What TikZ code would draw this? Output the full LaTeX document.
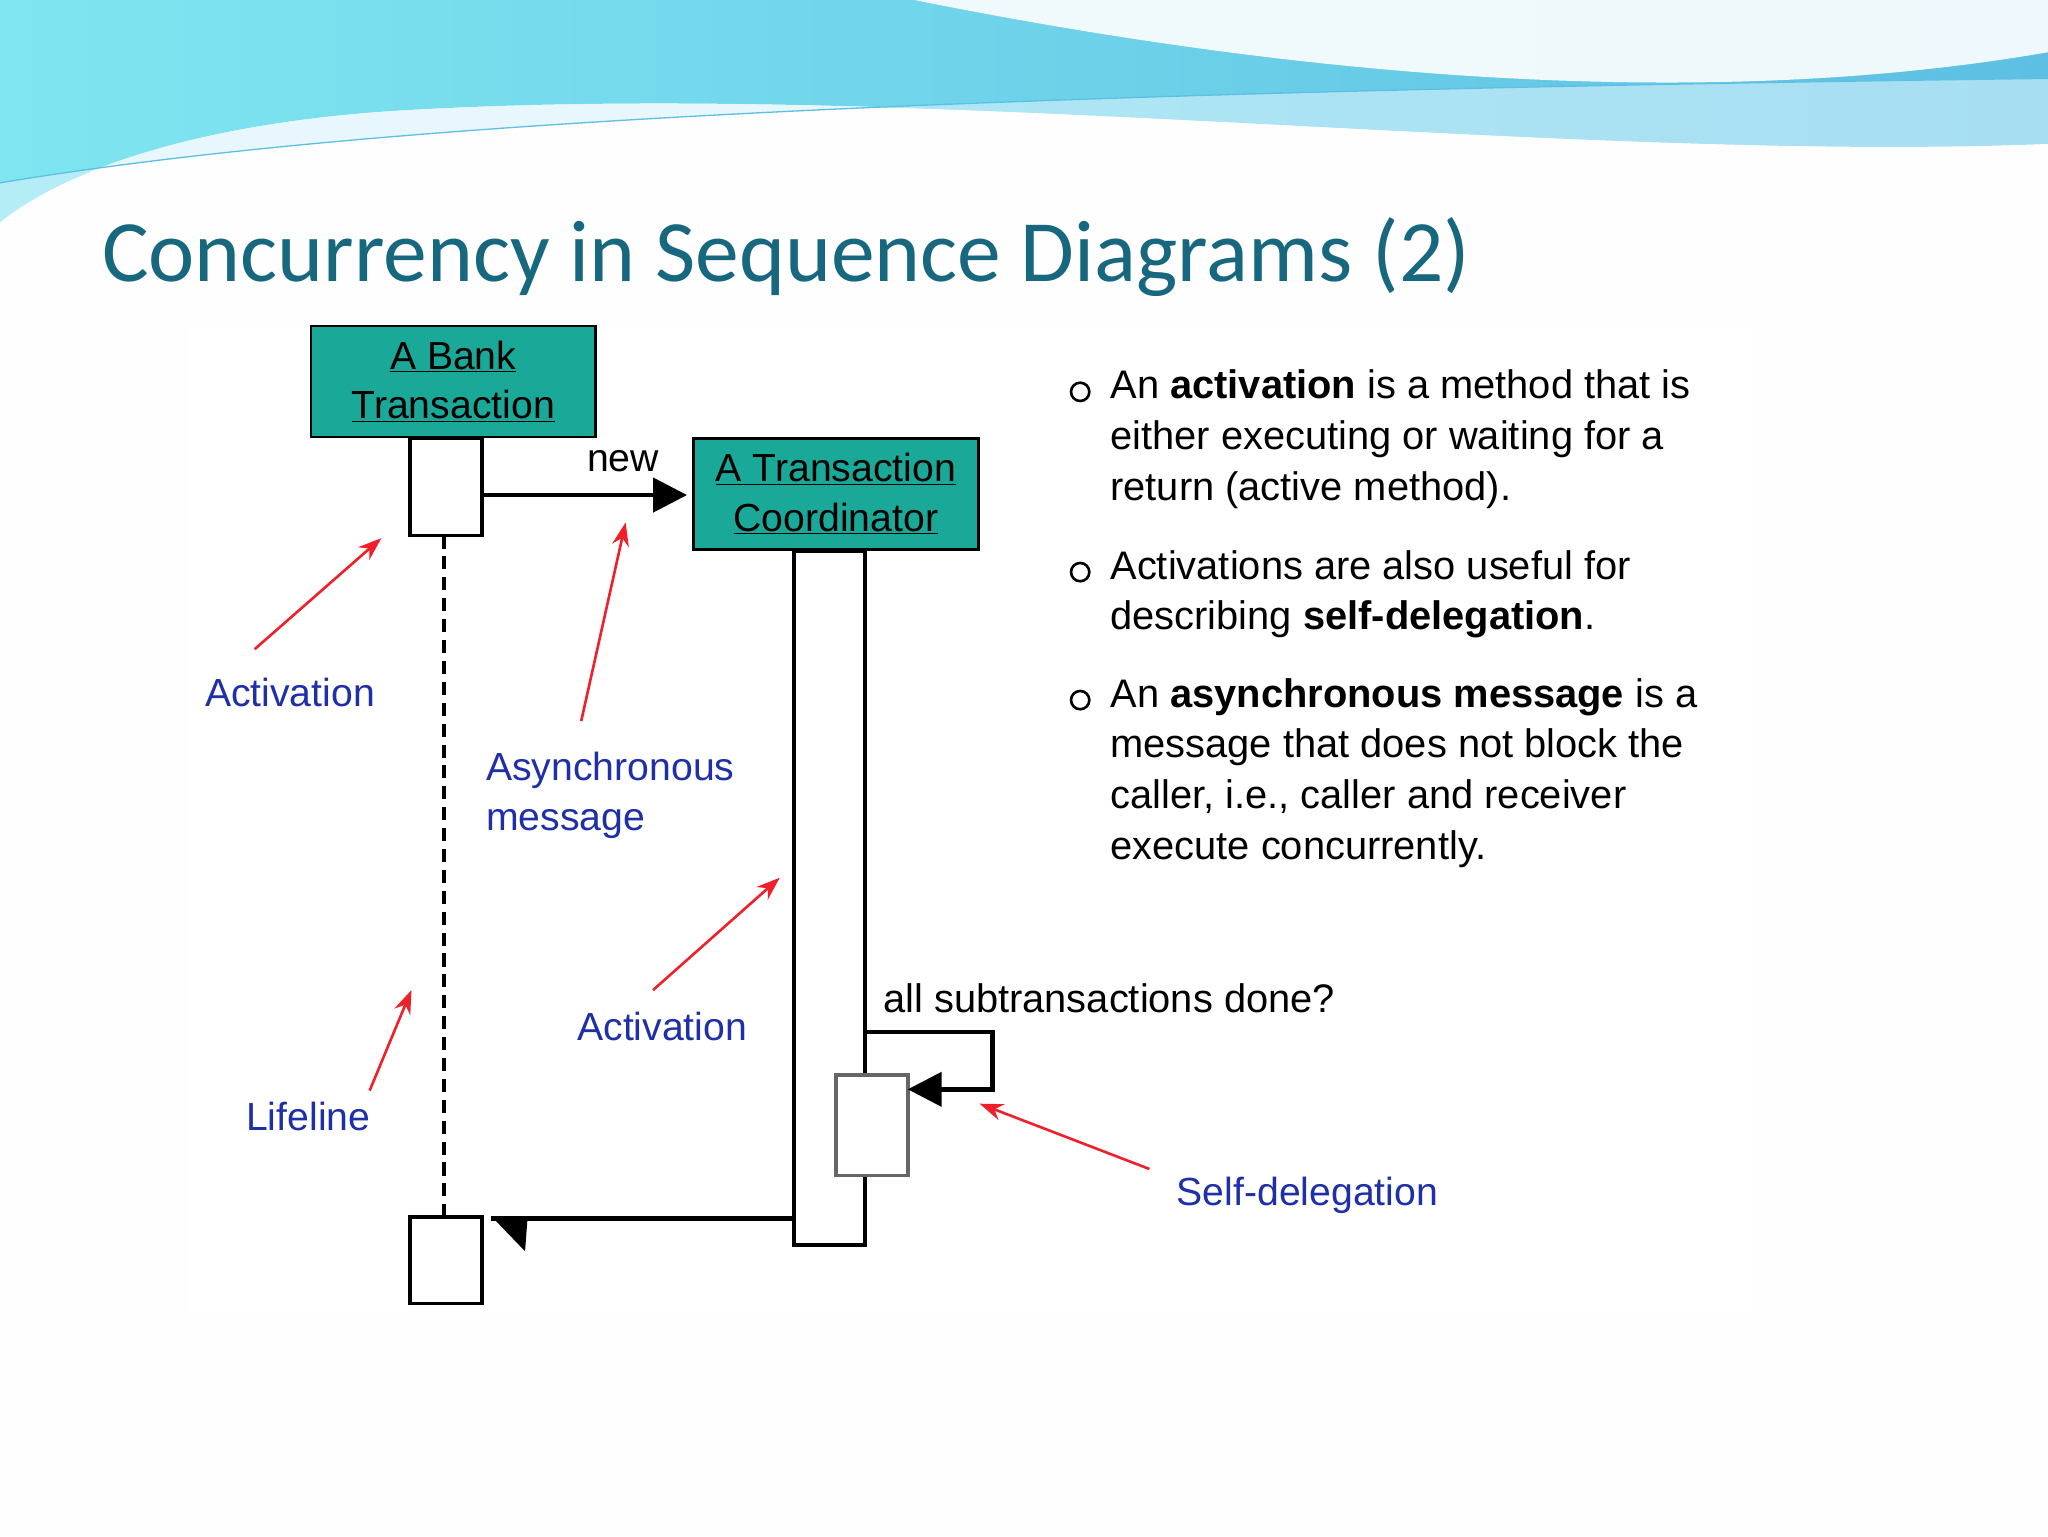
\documentclass[tikz,border=0pt]{standalone}
\usepackage{fontspec}
\setmainfont{Liberation Sans}
\newfontfamily\titlefont{Carlito}
\usetikzlibrary{arrows.meta}
\definecolor{teal1}{HTML}{1AA898}
\definecolor{titlec}{HTML}{17687F}
\definecolor{lblue}{HTML}{1F2FA8}
\definecolor{redc}{HTML}{F0202A}
\definecolor{wave1}{HTML}{7FE6F0}
\definecolor{wave2}{HTML}{5DBFE3}
\tikzset{
  obj/.style={draw=black,line width=2pt,fill=teal1,minimum width=218pt,minimum height=85pt,align=center,font=\fontsize{30}{40}\selectfont,inner sep=0pt},
  act/.style={draw=black,line width=3pt,fill=white,inner sep=0pt},
  msg/.style={line width=3.5pt,-{Triangle[length=26pt,width=26pt]}},
  redarr/.style={draw=redc,line width=2pt,-{Stealth[length=18pt,width=13pt]}},
  lbl/.style={text=lblue,font=\fontsize{30}{38}\selectfont,inner sep=0pt,align=left},
  btxt/.style={font=\fontsize{30.5}{39}\selectfont,anchor=north west,inner sep=0pt,align=left},
  bul/.style={draw=black,line width=2pt,circle,minimum size=14pt,inner sep=0pt}
}
\begin{document}
\begin{tikzpicture}[x=1pt,y=-1pt]
\useasboundingbox (0,0) rectangle (1568,1176);
\fill[white!93!blue!3] (0,0) rectangle (1568,1176);
% wave
\shade[left color=wave1,right color=wave2] (0,0)--(1568,0)--(1568,110) .. controls (1200,125) and (700,60) .. (300,85) .. controls (150,95) and (50,130) .. (0,170) -- cycle;
\fill[white,opacity=0.9] (700,0) .. controls (900,40) and (1250,95) .. (1568,40) -- (1568,0) -- cycle;
\fill[white!85!cyan,opacity=0.6] (0,140) .. controls (300,90) and (800,70) .. (1568,60) -- (1568,110) .. controls (1200,125) and (700,60) .. (300,85) .. controls (150,95) and (50,130) .. (0,170) -- cycle;
\draw[wave2,line width=1pt] (0,140) .. controls (300,90) and (800,70) .. (1568,60);
% title
\node[anchor=west,text=titlec,font=\titlefont\fontsize{67}{74}\selectfont,inner sep=0pt] (title) at (78,197) {Concurrency in Sequence Diagrams (2)};
% panel
\fill[white] (145,248) rectangle (1345,1005);
% objects
\node[obj] (bank) at (347,292) {\underline{A Bank}\\[-2pt]\underline{Transaction}};
\node[obj] (coord) at (640,378) {\underline{A Transaction}\\[-2pt]\underline{Coordinator}};
% activations
\draw[act] (314,335) rectangle (369,410);
\coordinate (a1r) at (369,379);
\draw[act] (608,422) rectangle (662,953);
\draw[act,draw=gray!80!black] (640,823) rectangle (695,900);
\draw[act] (314,932) rectangle (369,998);
\draw[line width=3pt,dash pattern=on 10pt off 6pt] (340,410) -- (340,932);
% messages
\coordinate (newend) at (526,379);
\draw[msg] (a1r) -- (newend);
\node[font=\fontsize{30}{36}\selectfont,inner sep=0pt] (newl) at (477,353) {new};
\coordinate (s1) at (662,790); \coordinate (s2) at (760,790); \coordinate (s3) at (760,834); \coordinate (s4) at (695,834);
\draw[msg] (s1) -- (s2) -- (s3) -- (s4);
\coordinate (r1) at (608,933); \coordinate (r2) at (376,933);
\draw[line width=3.5pt] (r1) -- (r2);
\fill (376,931) -- (404,931) -- (402,958) -- cycle;
\node[anchor=west,font=\fontsize{30.5}{36}\selectfont,inner sep=0pt] (allsub) at (676,764) {all subtransactions done?};
% labels
\node[lbl] (l1) at (222,530) {Activation};
\node[lbl,anchor=west] (l2) at (372,609) {Asynchronous\\message};
\node[lbl] (l3) at (507,786) {Activation};
\node[lbl] (l4) at (236,855) {Lifeline};
\node[lbl] (l5) at (1001,915) {Self-delegation};
\coordinate (t1) at (292,412); \coordinate (t2) at (479,400); \coordinate (t3) at (315,758); \coordinate (t4) at (597,672); \coordinate (t5) at (750,845);
\draw[redarr] (195,497) -- (t1);
\draw[redarr] (445,552) -- (t2);
\draw[redarr] (283,835) -- (t3);
\draw[redarr] (500,758) -- (t4);
\draw[redarr] (880,895) -- (t5);
% bullets
\node[bul] (b1) at (827,300) {};
\node[bul] (b2) at (827,438) {};
\node[bul] (b3) at (827,536) {};
\node[btxt] (bt1) at (850,283) {An \textbf{activation} is a method that is\\either executing or waiting for a\\return (active method).};
\node[btxt] (bt2) at (850,421) {Activations are also useful for\\describing \textbf{self-delegation}.};
\node[btxt] (bt3) at (850,519) {An \textbf{asynchronous message} is a\\message that does not block the\\caller, i.e., caller and receiver\\execute concurrently.};
\end{tikzpicture}
\end{document}
